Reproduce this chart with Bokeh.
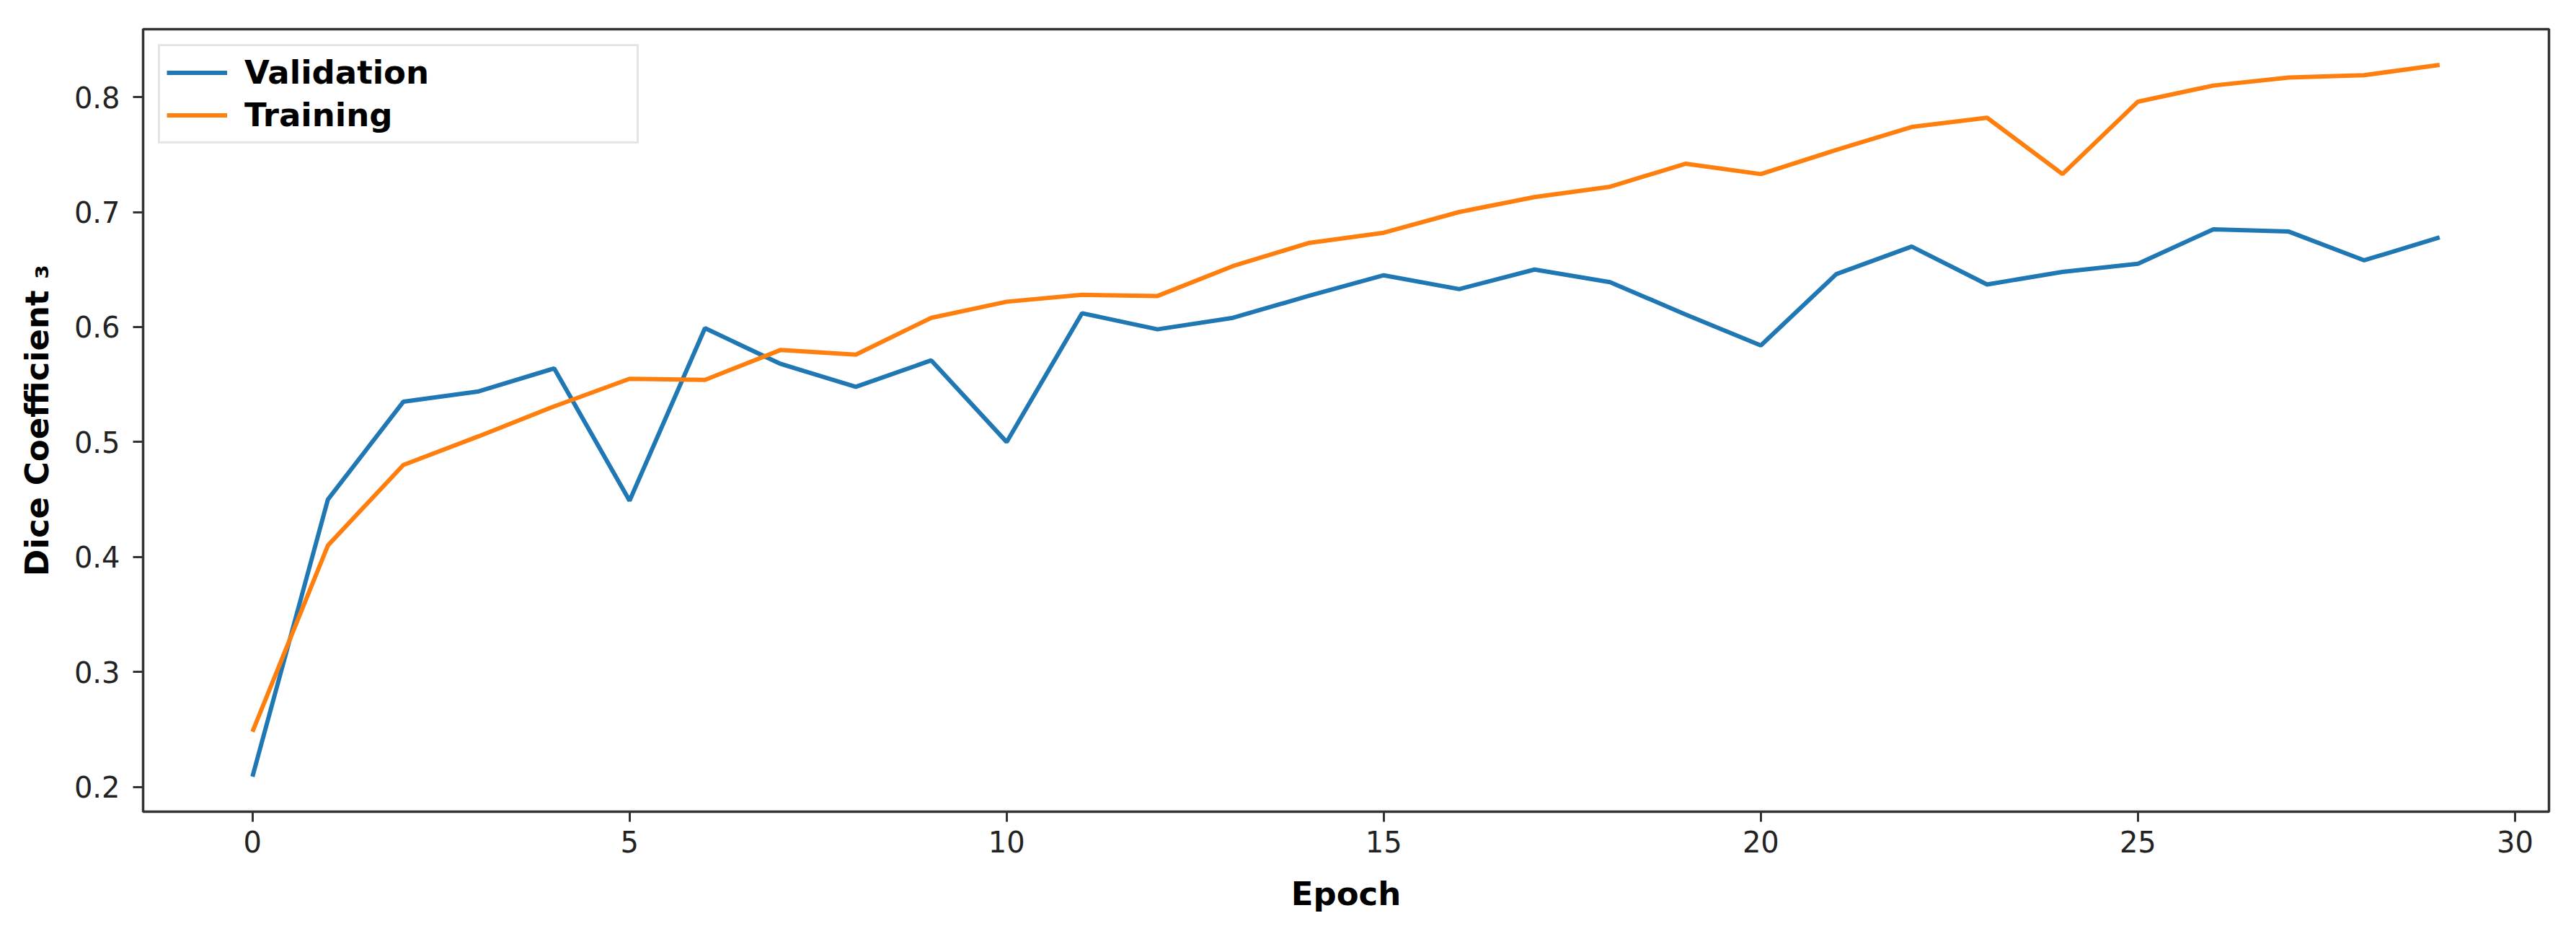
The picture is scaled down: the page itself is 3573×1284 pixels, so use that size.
from bokeh.plotting import figure
from bokeh.models import Range1d, FixedTicker
from bokeh.embed import file_html
from bokeh.resources import INLINE

epochs = list(range(30))
validation = [0.209, 0.450, 0.535, 0.544, 0.564, 0.449, 0.599, 0.568, 0.548, 0.571,
              0.500, 0.612, 0.598, 0.608, 0.627, 0.645, 0.633, 0.650, 0.639, 0.611,
              0.584, 0.646, 0.670, 0.637, 0.648, 0.655, 0.685, 0.683, 0.658, 0.678]
training = [0.248, 0.410, 0.480, 0.505, 0.531, 0.555, 0.554, 0.580, 0.576, 0.608,
            0.622, 0.628, 0.627, 0.653, 0.673, 0.682, 0.700, 0.713, 0.722, 0.742,
            0.733, 0.754, 0.774, 0.782, 0.733, 0.796, 0.810, 0.817, 0.819, 0.828]
x_ticks = [0, 5, 10, 15, 20, 25, 30]
y_ticks = [0.2, 0.3, 0.4, 0.5, 0.6, 0.7, 0.8]

FONT = "DejaVu Sans"

p = figure(width=3557, height=1268, output_backend="svg", toolbar_location=None,
           x_range=Range1d(-1.45, 30.45), y_range=Range1d(0.1785, 0.859),
           min_border_left=198, min_border_top=40, min_border_right=22, min_border_bottom=143)

p.line(epochs, validation, line_color="#1f77b4", line_width=6, legend_label="Validation")
p.line(epochs, training, line_color="#ff7f0e", line_width=6, legend_label="Training")

p.xgrid.visible = False
p.ygrid.visible = False
p.outline_line_color = "#333333"
p.outline_line_width = 3.5
p.background_fill_color = "white"
p.border_fill_color = "white"

p.xaxis.ticker = FixedTicker(ticks=x_ticks)
p.yaxis.ticker = FixedTicker(ticks=y_ticks)
for ax in (p.xaxis, p.yaxis):
    ax.axis_line_color = None
    ax.major_tick_line_color = "#333333"
    ax.major_tick_line_width = 3
    ax.major_tick_in = 0
    ax.major_tick_out = 14
    ax.minor_tick_line_color = None
    ax.major_label_text_font = FONT
    ax.major_label_text_font_size = "40px"
    ax.major_label_text_color = "#222222"
    ax.axis_label_text_font = FONT
    ax.axis_label_text_font_size = "45px"
    ax.axis_label_text_font_style = "bold"
    ax.axis_label_text_color = "#000000"

p.xaxis.axis_label = "Epoch"
p.yaxis.axis_label = "Dice Coefficient \u2083"
p.xaxis.major_label_standoff = 12
p.yaxis.major_label_standoff = 18
p.xaxis.axis_label_standoff = 28
p.yaxis.axis_label_standoff = 22

lg = p.legend[0]
lg.location = "top_left"
lg.margin = 21
lg.padding = 9
lg.spacing = 4
lg.glyph_width = 84
lg.glyph_height = 55
lg.label_height = 55
lg.label_width = 535
lg.label_standoff = 24
lg.label_text_font = FONT
lg.label_text_font_size = "45px"
lg.label_text_font_style = "bold"
lg.label_text_color = "#000000"
lg.border_line_color = "#cccccc"
lg.border_line_width = 3
lg.background_fill_color = "white"
lg.background_fill_alpha = 0.8

open("out.html", "w").write(file_html(p, INLINE))
